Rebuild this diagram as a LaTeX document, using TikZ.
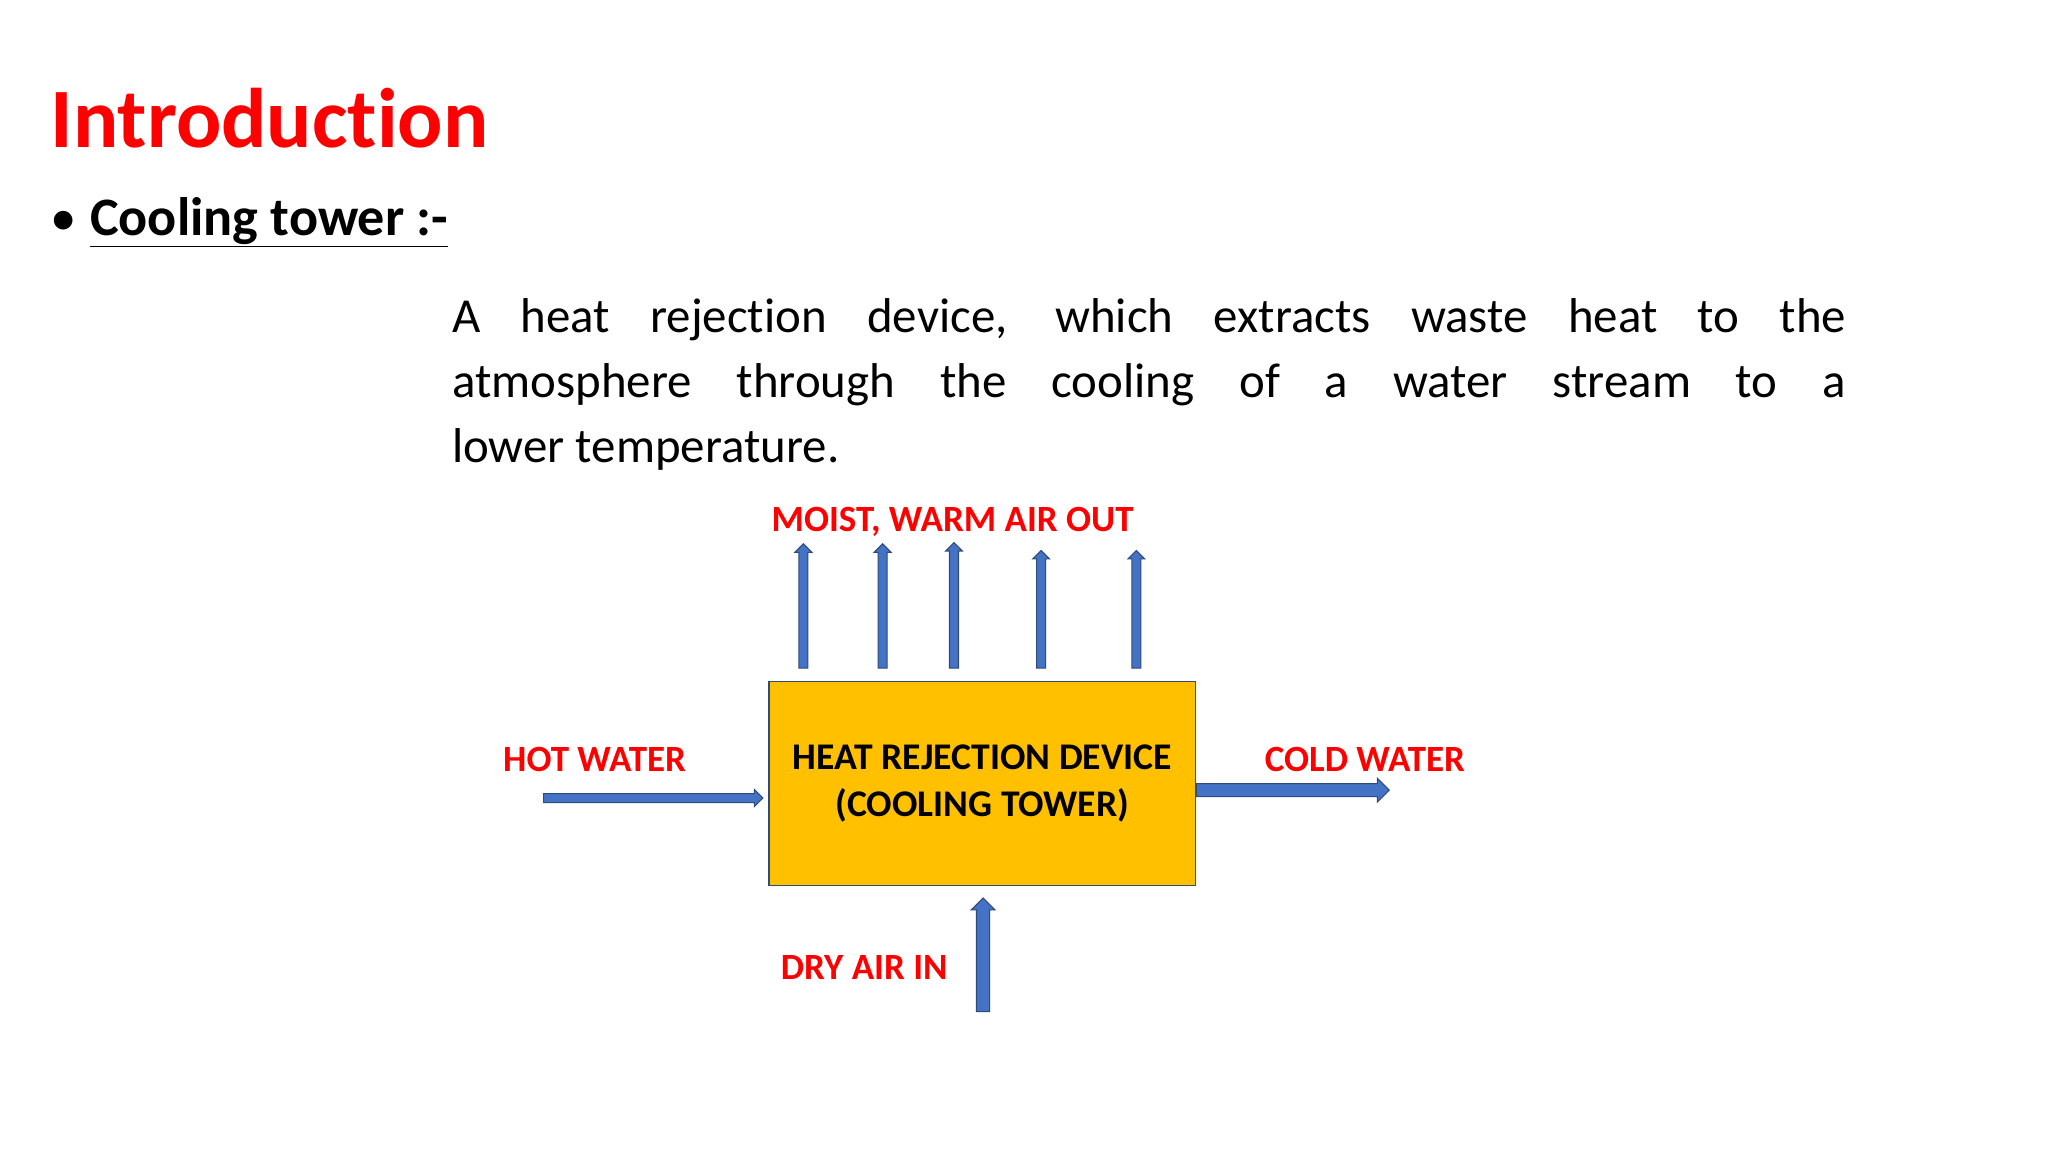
\documentclass[tikz,border=0pt]{standalone}
\usepackage{fontspec}
\setmainfont{Carlito}[RawFeature={-liga}]
\usetikzlibrary{shapes.arrows}
\definecolor{aBlue}{HTML}{4472C4}
\definecolor{aEdge}{HTML}{2F4B7C}
\definecolor{aRed}{HTML}{FF0000}
\definecolor{aGold}{HTML}{FFC000}
\begin{document}
\begin{tikzpicture}[x=1pt,y=-1pt,
  blk/.style={single arrow, draw=aEdge, fill=aBlue, line width=0.8pt, anchor=tail, inner sep=0pt},
  thin/.style={blk, minimum width=12pt, single arrow head extend=3pt, minimum height=#1, text width=0pt, text height=6pt, text depth=0pt},
  fat/.style={blk, minimum width=18pt, single arrow head extend=4pt, minimum height=#1, text width=0pt, text height=9pt, text depth=0pt},
  lab/.style={text=aRed, font=\fontsize{28}{30}\selectfont\bfseries, inner sep=0pt}]
\useasboundingbox (0,0) rectangle (1550,872);
\node[anchor=base west, text=aRed, font=\fontsize{64}{70}\selectfont\bfseries, inner sep=0pt] (title) at (38,112) {Introduction};
\node[anchor=base west, font=\fontsize{40}{44}\selectfont, inner sep=0pt] (bul) at (38,178) {•};
\node[anchor=base west, font=\fontsize{41}{44}\selectfont\bfseries, inner sep=0pt] (sub) at (68,178) {\underline{Cooling tower :-}};
\node[anchor=north west, text width=1055pt, align=justify, font=\fontsize{37}{49}\selectfont, inner sep=0pt] (body) at (342,226)
 {A heat rejection device, which extracts waste heat to the\linebreak atmosphere through the cooling of a water stream to a\linebreak lower temperature.};
\node[draw=aEdge, fill=aGold, line width=1pt, minimum width=323pt, minimum height=154pt, inner sep=0pt,
  align=center, font=\fontsize{28.5}{35}\selectfont\bfseries] (box) at (743.5,593) {HEAT REJECTION DEVICE\\(COOLING TOWER)};
\node[lab] (moist) at (721,395) {MOIST, WARM AIR OUT};
\node[lab] (hot) at (450,575) {HOT WATER};
\node[lab] (cold) at (1033,575) {COLD WATER};
\node[lab] (dry) at (654,732) {DRY AIR IN};
\node[thin=94pt, rotate=90] (u1) at (608,506) {};
\node[thin=94pt, rotate=90] (u2) at (668,506) {};
\node[thin=95pt, rotate=90] (u3) at (722,506) {};
\node[thin=89pt, rotate=90] (u4) at (788,506) {};
\node[thin=89pt, rotate=90] (u5) at (860,506) {};
\node[thin=166pt] (hw) at (411,604) {};
\node[fat=146pt] (cw) at (905,598) {};
\node[fat=86pt, rotate=90] (da) at (744,766) {};
\end{tikzpicture}
\end{document}
